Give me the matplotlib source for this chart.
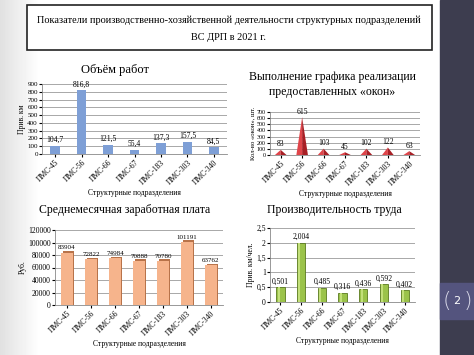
import numpy as np
import matplotlib
matplotlib.use('Agg')
import matplotlib.pyplot as plt
from matplotlib.patches import Rectangle, Polygon

plt.rcParams['font.family'] = ['Liberation Serif', 'DejaVu Serif']

# данные слайда
units = ['ПМС-45', 'ПМС-56', 'ПМС-66', 'ПМС-67', 'ПМС-183', 'ПМС-303', 'ПМС-340']
volume = [104.7, 816.8, 121.5, 55.4, 137.3, 157.5, 84.5]
volume_labels = ['104,7', '816,8', '121,5', '55,4', '137,3', '157,5', '84,5']
windows = [83, 615, 103, 45, 102, 122, 63]
salary = [83904, 72822, 74984, 70888, 70780, 101191, 63762]
productivity = [0.501, 2.004, 0.485, 0.316, 0.436, 0.592, 0.402]
productivity_labels = ['0,501', '2,004', '0,485', '0,316', '0,436', '0,592', '0,402']

W, H = 474, 355
fig = plt.figure(figsize=(W / 100, H / 100), dpi=100)


def px_axes(left, top, right, bottom, **kw):
    """оси по пиксельным координатам слайда"""
    return fig.add_axes([left / W, 1 - bottom / H, (right - left) / W, (bottom - top) / H], **kw)


# фон: лёгкий серый градиент слева + тёмная полоса справа
bg = px_axes(0, 0, W, H)
grad = np.linspace(0.88, 1.0, 40)
grad = np.concatenate([grad, np.ones(400)])
bg.imshow(np.tile(grad, (10, 1)), cmap='gray', vmin=0, vmax=1, aspect='auto',
          extent=[0, 440, H, 0])
bg.add_patch(Rectangle((440, 0), 34, H, color='#3d3d4f'))
bg.add_patch(Rectangle((440, 283), 34, 36, color='#54547e'))
bg.text(457, 301, '2', color='white', fontsize=8, ha='center', va='center', family='DejaVu Sans')
bg.text(447, 301, '(', color='#d8d8e8', fontsize=16, ha='center', va='center', family='DejaVu Sans', weight='light')
bg.text(468, 301, ')', color='#d8d8e8', fontsize=16, ha='center', va='center', family='DejaVu Sans', weight='light')
bg.add_patch(Rectangle((27, 5), 405, 45, facecolor='white', edgecolor='#222222', lw=1.2))
bg.text(229, 20, 'Показатели производственно-хозяйственной деятельности структурных подразделений',
        fontsize=7.4, ha='center', va='center')
bg.text(229, 38, 'ВС ДРП в 2021 г.', fontsize=7.4, ha='center', va='center')
bg.set_xlim(0, W)
bg.set_ylim(H, 0)
bg.axis('off')

x = np.arange(len(units))


def style_axes(ax, ymax, step, ylabel, fmt=None, ytick_size=5.5):
    ax.set_xlim(-0.5, len(units) - 0.5)
    ax.set_ylim(0, ymax)
    ticks = np.arange(0, ymax + step / 2, step)
    ax.set_yticks(ticks)
    if fmt:
        ax.set_yticklabels([fmt(t) for t in ticks])
    ax.yaxis.grid(True, color='#9a9a9a', lw=0.6)
    ax.set_axisbelow(True)
    ax.set_xticks(x)
    ax.set_xticklabels(units, rotation=45, ha='right', rotation_mode='anchor', fontsize=5.5)
    ax.tick_params(axis='y', labelsize=ytick_size, length=2, pad=1)
    ax.tick_params(axis='x', length=2, pad=1)
    for s in ['top', 'right']:
        ax.spines[s].set_visible(False)
    for s in ['left', 'bottom']:
        ax.spines[s].set_color('#888888')
        ax.spines[s].set_linewidth(0.6)
    ax.set_ylabel(ylabel, fontsize=5.5, labelpad=1)
    ax.set_xlabel('Структурные подразделения', fontsize=5.5, labelpad=2)
    ax.set_facecolor('none')


# 1. Объём работ
ax1 = px_axes(42, 84, 227, 154)
ax1.bar(x, volume, width=0.36, color='#7e9fd6')
for xi, v, lb in zip(x, volume, volume_labels):
    ax1.text(xi, v + 25, lb, ha='center', va='bottom', fontsize=5.5)
style_axes(ax1, 900, 100, 'Прив. км', ytick_size=5)
fig.text(115 / W, 1 - 70 / H, 'Объём работ', fontsize=9, ha='center', va='center')

# 2. Окна — конусы
ax2 = px_axes(270, 112, 420, 155)
for xi, v in zip(x, windows):
    ax2.add_patch(Polygon([[xi - 0.27, 0], [xi, v], [xi, 0]], closed=True, color='#e0454a', lw=0))
    ax2.add_patch(Polygon([[xi, 0], [xi, v], [xi + 0.27, 0]], closed=True, color='#a81f25', lw=0))
    ax2.text(xi, v + 25, str(v), ha='center', va='bottom', fontsize=5.5)
style_axes(ax2, 700, 100, 'Кол-во «окон», шт.', ytick_size=4.3)
ax2.yaxis.label.set_fontsize(4.8)
fig.text(332 / W, 1 - 77 / H, 'Выполнение графика реализации', fontsize=8.5, ha='center', va='center')
fig.text(332 / W, 1 - 92 / H, 'предоставленных «окон»', fontsize=8.5, ha='center', va='center')

# 3. Зарплата — объёмные столбцы
ax3 = px_axes(55, 230, 223, 305)
ax3.bar(x + 0.08, np.array(salary) + 2500, width=0.46, color='#b8734a', zorder=2)
ax3.bar(x, salary, width=0.46, color='#f6b48c', zorder=3)
for xi, v in zip(x, salary):
    ax3.text(xi, v + 3500, str(v), ha='center', va='bottom', fontsize=5, zorder=4)
style_axes(ax3, 120000, 20000, 'Руб.')
fig.text(125 / W, 1 - 210 / H, 'Среднемесячная заработная плата', fontsize=8.5, ha='center', va='center')

# 4. Производительность — цилиндры
ax4 = px_axes(270, 228, 415, 302)
ax4.bar(x, productivity, width=0.4, color='#9bc34a', edgecolor='#5a7a1e', lw=0.6, zorder=3)
ax4.bar(x - 0.08, productivity, width=0.1, color='#c3e07a', lw=0, zorder=4)
for xi, v, lb in zip(x, productivity, productivity_labels):
    ax4.text(xi, v + 0.05, lb, ha='center', va='bottom', fontsize=5.5, zorder=5)
style_axes(ax4, 2.5, 0.5, 'Прив. км/чел.',
           fmt=lambda t: ('%g' % t).replace('.', ','))
fig.text(334 / W, 1 - 210 / H, 'Производительность труда', fontsize=8.5, ha='center', va='center')

fig.savefig('out.png', dpi=100)
